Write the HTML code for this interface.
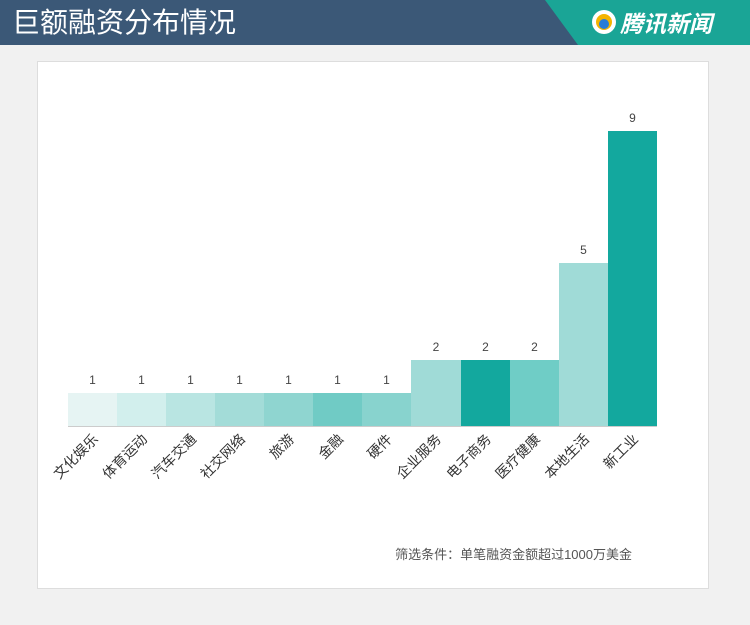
<!DOCTYPE html>
<html><head><meta charset="utf-8"><style>
body{margin:0;width:750px;height:625px;background:#f1f1f1;overflow:hidden;font-family:"Liberation Sans","Noto Sans CJK SC",sans-serif}
</style></head><body>
<svg width="750" height="625" xmlns="http://www.w3.org/2000/svg" style="position:absolute;left:0;top:0">
<rect x="0" y="0" width="750" height="45" fill="#3b5877"/>
<polygon points="545,0 750,0 750,45 578,45" fill="#1aa596"/>
<text x="12" y="32" font-size="28" fill="#fff" font-family="Liberation Sans,Noto Sans CJK SC,sans-serif">巨额融资分布情况</text>
<circle cx="604" cy="22" r="12" fill="#fff"/>
<circle cx="604" cy="22" r="8" fill="#f4b400"/>
<circle cx="604" cy="24" r="5" fill="#2a7bd6"/>
<text x="620" y="32" font-size="23" font-style="italic" font-weight="bold" fill="#fff" font-family="Liberation Sans,Noto Sans CJK SC,sans-serif">腾讯新闻</text>
<rect x="37.5" y="61.5" width="671" height="527" fill="#fff" stroke="#ddd"/>
<g font-size="12" fill="#444" text-anchor="middle">
<rect x="68" y="393" width="49" height="33" fill="#e6f4f3"/><text x="92.5" y="384">1</text>
<rect x="117" y="393" width="49" height="33" fill="#d2efed"/><text x="141.5" y="384">1</text>
<rect x="166" y="393" width="49" height="33" fill="#b9e5e2"/><text x="190.5" y="384">1</text>
<rect x="215" y="393" width="49" height="33" fill="#a3dcd8"/><text x="239.5" y="384">1</text>
<rect x="264" y="393" width="49" height="33" fill="#8fd5d0"/><text x="288.5" y="384">1</text>
<rect x="313" y="393" width="49" height="33" fill="#70cbc5"/><text x="337.5" y="384">1</text>
<rect x="362" y="393" width="49" height="33" fill="#88d3ce"/><text x="386.5" y="384">1</text>
<rect x="411" y="360" width="50" height="66" fill="#a0dbd7"/><text x="436" y="351">2</text>
<rect x="461" y="360" width="49" height="66" fill="#13a89e"/><text x="485.5" y="351">2</text>
<rect x="510" y="360" width="49" height="66" fill="#6fcdc6"/><text x="534.5" y="351">2</text>
<rect x="559" y="263" width="49" height="163" fill="#a0dbd7"/><text x="583.5" y="254">5</text>
<rect x="608" y="131" width="49" height="295" fill="#13a89e"/><text x="632.5" y="122">9</text>
</g>
<line x1="68" y1="426.5" x2="657" y2="426.5" stroke="#ccc"/>
<g font-size="14" fill="#333" text-anchor="end">
<text transform="translate(99,440) rotate(-45)">文化娱乐</text>
<text transform="translate(148,440) rotate(-45)">体育运动</text>
<text transform="translate(197,440) rotate(-45)">汽车交通</text>
<text transform="translate(246,440) rotate(-45)">社交网络</text>
<text transform="translate(295,440) rotate(-45)">旅游</text>
<text transform="translate(344,440) rotate(-45)">金融</text>
<text transform="translate(393,440) rotate(-45)">硬件</text>
<text transform="translate(442,440) rotate(-45)">企业服务</text>
<text transform="translate(492,440) rotate(-45)">电子商务</text>
<text transform="translate(541,440) rotate(-45)">医疗健康</text>
<text transform="translate(590,440) rotate(-45)">本地生活</text>
<text transform="translate(639,440) rotate(-45)">新工业</text>
</g>
<text x="632" y="559" font-size="13" fill="#555" text-anchor="end">筛选条件：单笔融资金额超过1000万美金</text>
</svg>
</body></html>
